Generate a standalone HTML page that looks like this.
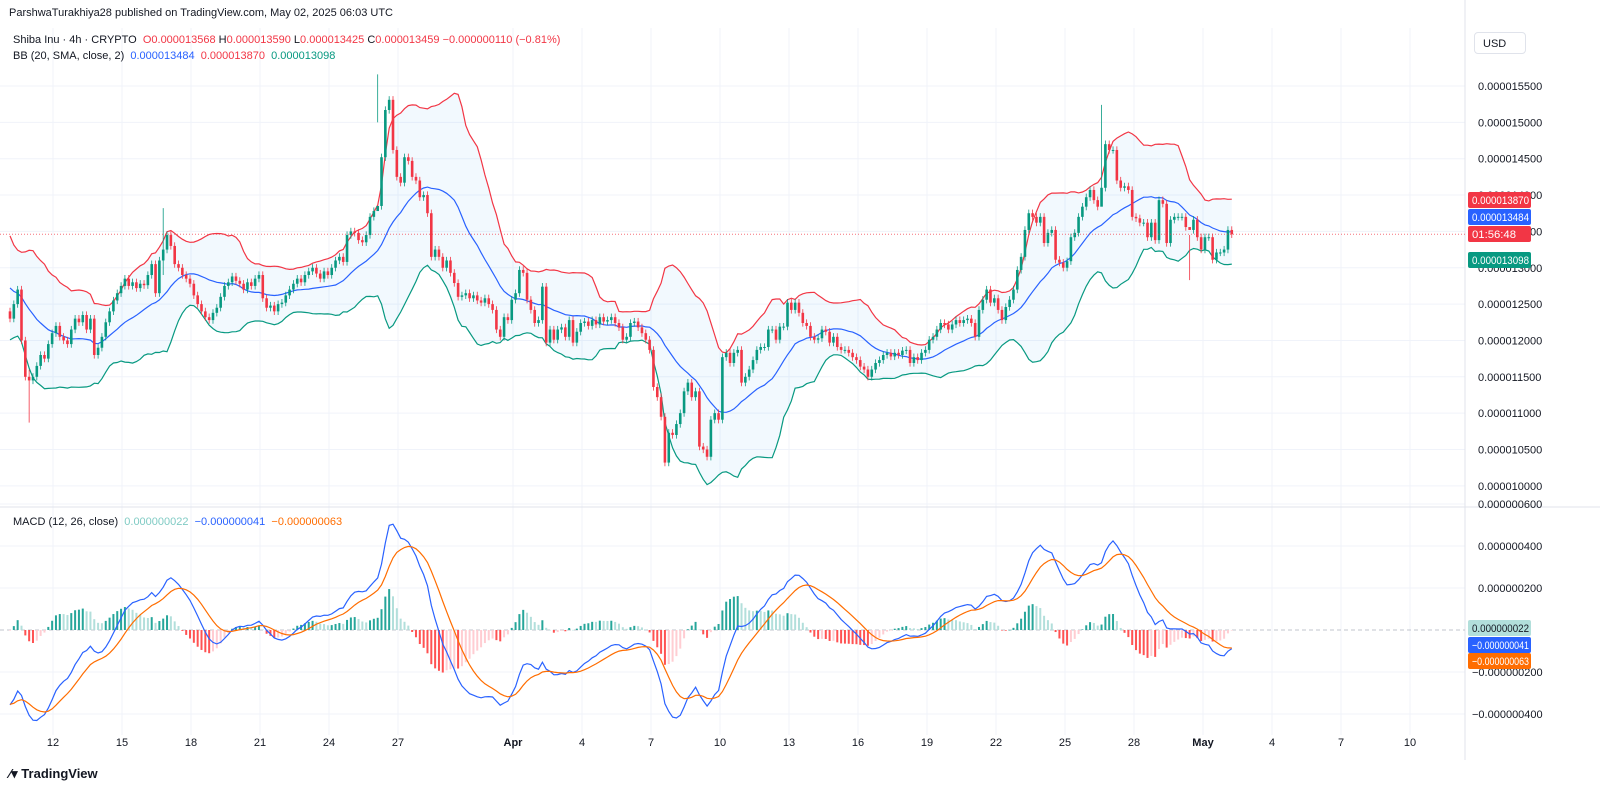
<!DOCTYPE html>
<html><head><meta charset="utf-8">
<style>
body{margin:0;background:#fff;width:1600px;height:806px;overflow:hidden;font-family:"Liberation Sans",sans-serif}
svg{position:absolute;left:0;top:0}
</style></head>
<body>
<svg id="c" width="1600" height="806" xmlns="http://www.w3.org/2000/svg"></svg>
<script>
// close prices in units of 1e-8
const warmup=[1420,1410,1425,1400,1390,1405,1380,1370,1385,1360,1350,1365,1340,1330,1345,1320,1310,1325,1300,1290,1305,1280,1270,1285,1260,1250,1265,1240,1235,1250,1225,1220,1240];
const closes=[
1230,1250,1270,1200,1150,1145, 1150,1165,1180,1175,1195,1210, 1220,1205,1200,1195,1215,1230, 1225,1235,1215,1230,1180,1190,
1205,1225,1240,1255,1265,1275, 1285,1275,1280,1272,1278,1276, 1290,1305,1265,1310,1325,1345, 1330,1305,1300,1290,1285,1278,
1262,1250,1240,1232,1228,1238, 1245,1260,1275,1280,1288,1282, 1278,1270,1280,1275,1285,1290, 1258,1245,1248,1240,1250,1252,
1262,1270,1278,1285,1280,1290, 1295,1300,1292,1285,1295,1290, 1300,1310,1315,1308,1345,1350, 1348,1338,1335,1345,1370,1378,
1385,1452,1517,1531,1462,1425, 1417,1452,1447,1425,1420,1397, 1400,1375,1315,1325,1315,1300, 1310,1293,1279,1260,1262,1265,
1258,1262,1255,1252,1258,1250, 1242,1215,1205,1232,1228,1256, 1265,1297,1293,1256,1242,1224, 1228,1274,1197,1215,1201,1215,
1218,1205,1228,1197,1212,1224, 1226,1220,1228,1222,1232,1226, 1228,1232,1224,1218,1201,1205, 1224,1226,1218,1210,1201,1187,
1136,1122,1095,1032,1073,1070, 1085,1100,1130,1142,1122,1130, 1054,1050,1040,1091,1100,1091, 1177,1183,1169,1183,1187,1142,
1150,1160,1173,1187,1191,1191, 1215,1215,1201,1219,1219,1252, 1242,1252,1238,1224,1220,1205, 1201,1203,1215,1212,1197,1205,
1191,1187,1187,1183,1177,1173, 1164,1160,1150,1160,1169,1173, 1180,1183,1178,1183,1180,1186, 1187,1169,1177,1173,1183,1187,
1201,1205,1215,1224,1222,1215, 1222,1228,1224,1228,1230,1224, 1205,1242,1256,1270,1252,1258, 1242,1228,1246,1256,1270,1297,
1315,1352,1375,1370,1362,1370, 1334,1348,1352,1311,1307,1300, 1309,1342,1348,1370,1384,1397, 1407,1393,1384,1410,1470,1462,
1462,1420,1410,1412,1407,1370, 1368,1362,1362,1342,1362,1338, 1393,1388,1334,1366,1370,1370, 1370,1356,1352,1366,1342,1325,
1342,1342,1311,1321,1321,1325, 1352,1346];
// [visible index, high, low] for notable wicks
const spikes=[[5,1160,1087],[40,1382,1290],[96,1566,1500],[285,1524,1405],[308,1345,1283]];
const priceTicks=[1000,1050,1100,1150,1200,1250,1300,1350,1400,1450,1500,1550];
const macdTicks=[60,40,20,-20,-40];
const dayLabels=['12','15','18','21','24','27','Apr','4','7','10','13','16','19','22','25','28','May','4','7','10'];
const dayOffsets=[0,3,6,9,12,15,20,23,26,29,32,35,38,41,44,47,50,53,56,59];

const svg=document.getElementById('c');
const NS='http://www.w3.org/2000/svg';
function add(tag,attrs,parent,text){const e=document.createElementNS(NS,tag);for(const k in attrs)e.setAttribute(k,attrs[k]);if(text!==undefined)e.textContent=text;(parent||svg).appendChild(e);return e;}
const yP=p=>86+(1550-p)*0.727;
const yM=v=>630-v*2.1;
const xI=i=>10+3.83*i;
const xD=d=>53+23*d;

// grid
const grid=add('g',{});
dayOffsets.forEach(d=>{add('line',{x1:xD(d),x2:xD(d),y1:28,y2:735,stroke:'#f0f3fa'},grid);});
priceTicks.forEach(p=>{add('line',{x1:0,x2:1465,y1:yP(p),y2:yP(p),stroke:'#f0f3fa'},grid);});
macdTicks.forEach(v=>{add('line',{x1:0,x2:1465,y1:yM(v),y2:yM(v),stroke:'#f0f3fa'},grid);});
add('line',{x1:0,x2:1600,y1:507,y2:507,stroke:'#e0e3eb'});
add('line',{x1:1465,x2:1465,y1:0,y2:760,stroke:'#e0e3eb'});

// data
const all=warmup.concat(closes);const W=warmup.length;
const up=[],lo=[],mid=[];
for(let k=W;k<all.length;k++){let s=0;for(let j=k-19;j<=k;j++)s+=all[j];const m=s/20;let v=0;for(let j=k-19;j<=k;j++)v+=(all[j]-m)**2;const sd=Math.sqrt(v/20);mid.push(m);up.push(m+2*sd);lo.push(m-2*sd);}
let e12=all[0],e26=all[0],sig=0;const macd=[],sg=[];
all.forEach((c,k)=>{e12=e12+(c-e12)*2/13;e26=e26+(c-e26)*2/27;const m=e12-e26;sig=k===0?m:sig+(m-sig)*0.2;if(k>=W){macd.push(m);sg.push(sig);}});

const clip=add('clipPath',{id:'cp'});add('rect',{x:0,y:28,width:1465,height:478},clip);
const main=add('g',{'clip-path':'url(#cp)'});
let fp='';up.forEach((v,i)=>fp+=(i?'L':'M')+xI(i)+','+yP(v));for(let i=lo.length-1;i>=0;i--)fp+='L'+xI(i)+','+yP(lo[i]);
const bf=add('path',{d:fp+'Z',fill:'rgba(33,150,243,0.06)'},main);
function line(arr,fy,col,name,g){let d='';arr.forEach((v,i)=>d+=(i?'L':'M')+xI(i).toFixed(1)+','+fy(v).toFixed(1));const p=add('path',{d:d,fill:'none',stroke:col,'stroke-width':1.2},g);}
line(up,yP,'#f23645','bb-upper',main);line(lo,yP,'#089981','bb-lower',main);line(mid,yP,'#2962ff','bb-basis',main);
const cg=add('g',{},main);
closes.forEach((c,i)=>{const o=i?closes[i-1]:warmup[W-1];let h=Math.max(o,c)+5,l=Math.min(o,c)-5;spikes.forEach(s=>{if(s[0]===i){h=s[1];l=s[2];}});const col=c>=o?'#089981':'#f23645';const x=xI(i);
add('line',{x1:x,x2:x,y1:yP(h),y2:yP(l),stroke:col,'stroke-width':0.8},cg);
const t=yP(Math.max(o,c)),b=yP(Math.min(o,c));const r=add('rect',{x:x-1.3,y:t,width:2.6,height:Math.max(1,b-t),fill:col},cg);});
const last=closes[closes.length-1];
add('line',{x1:0,x2:1465,y1:yP(last),y2:yP(last),stroke:'#f23645','stroke-dasharray':'1 2','stroke-width':1,opacity:0.7});

// MACD
const mg=add('g',{});
add('line',{x1:0,x2:1465,y1:yM(0),y2:yM(0),stroke:'#c0c4cc','stroke-dasharray':'4 3'},mg);
macd.forEach((m,i)=>{const h=m-sg[i],ph=i?macd[i-1]-sg[i-1]:h;let col=h>=0?(h>=ph?'#26a69a':'#b2dfdb'):(h<ph?'#ff5252':'#ffcdd2');const y0=yM(0),y1=yM(h);const r=add('rect',{x:xI(i)-1,y:Math.min(y0,y1),width:2,height:Math.max(0.5,Math.abs(y1-y0)),fill:col},mg);});
line(macd,yM,'#2962ff','macd-line',mg);line(sg,yM,'#ff6d00','signal-line',mg);

// axes labels
const ax=add('g',{'font-size':'11','fill':'#131722'});
priceTicks.forEach(p=>{add('text',{x:1478,y:yP(p)+4},ax,'0.0000'+(p*10).toString().padStart(5,'0'));});
macdTicks.forEach(v=>{add('text',{x:v<0?1472:1478,y:yM(v)+4},ax,(v<0?'−':'')+'0.000000'+(Math.abs(v)*10).toString().padStart(3,'0'));});
const tx=add('g',{'font-size':'11','fill':'#131722','text-anchor':'middle'});
dayLabels.forEach((l,k)=>{add('text',{x:xD(dayOffsets[k]),y:746,'font-weight':(l==='Apr'||l==='May')?'bold':'normal'},tx,l);});
function tag(y,bg,txt,name,fg){const g=add('g',{});add('rect',{x:1468,y:y-8,width:63,height:16,rx:2,fill:bg},g);const tl=txt.length>9?57:44;add('text',{x:1472,y:y+4,'font-size':'11','fill':fg||'#fff',textLength:tl,lengthAdjust:'spacingAndGlyphs'},g,txt);}
tag(200,'#f23645','0.000013870','bb-upper-label');tag(217,'#2962ff','0.000013484','bb-basis-label');tag(234,'#f23645','01:56:48','countdown-label');tag(260,'#089981','0.000013098','bb-lower-label');
tag(628,'#b2dfdb','0.000000022','hist-label','#131722');tag(645,'#2962ff','−0.000000041','macd-label');tag(661,'#ff6d00','−0.000000063','signal-label');
</script>
<div style="position:absolute;left:9px;top:7px;font-size:11px;color:#131722">ParshwaTurakhiya28 published on TradingView.com, May 02, 2025 06:03 UTC</div>
<div style="position:absolute;left:13px;top:34px;font-size:11px;color:#131722">Shiba Inu · 4h · CRYPTO &nbsp;<span style="color:#f23645">O</span><span style="color:#f23645">0.000013568</span> H<span style="color:#f23645">0.000013590</span> L<span style="color:#f23645">0.000013425</span> C<span style="color:#f23645">0.000013459 −0.000000110 (−0.81%)</span></div>
<div style="position:absolute;left:13px;top:50px;font-size:11px;color:#131722">BB (20, SMA, close, 2) &nbsp;<span style="color:#2962ff">0.000013484</span> &nbsp;<span style="color:#f23645">0.000013870</span> &nbsp;<span style="color:#089981">0.000013098</span></div>
<div style="position:absolute;left:13px;top:516px;font-size:11px;color:#131722">MACD (12, 26, close) &nbsp;<span style="color:#80cbc4">0.000000022</span> &nbsp;<span style="color:#2962ff">−0.000000041</span> &nbsp;<span style="color:#ff6d00">−0.000000063</span></div>
<div style="position:absolute;left:1474px;top:32px;width:52px;height:22px;border:1px solid #e0e3eb;border-radius:4px;font-size:11px;line-height:22px;padding-left:8px;box-sizing:border-box;color:#131722">USD</div>
<div style="position:absolute;left:9px;top:766px;font-size:13px;font-weight:bold;color:#131722">⁄▾ TradingView</div>
</body></html>
